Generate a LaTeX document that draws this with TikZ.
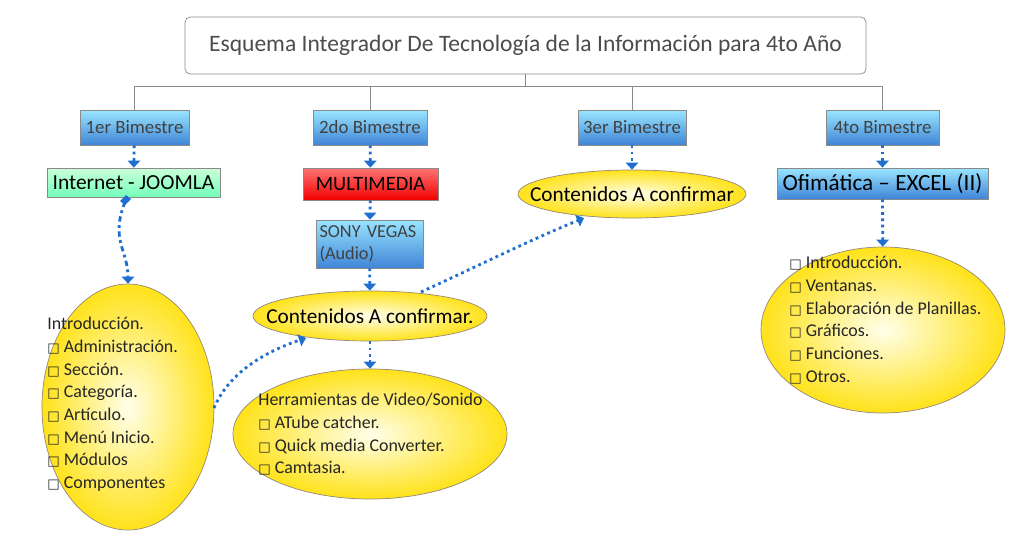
\documentclass[tikz,border=0pt]{standalone}
\usepackage{fontspec}
\setmainfont{Carlito}
\newfontfamily\symf{DejaVu Sans}
\usetikzlibrary{arrows.meta,shapes.geometric}
\definecolor{lnk}{HTML}{1E6FD0}
\definecolor{bord}{HTML}{8A8A8A}
\newlength{\ux}\setlength{\ux}{0.02cm}
\tikzset{
 blue box/.style={draw=bord,top color=blue!25!cyan!40,bottom color=lnk!85,minimum height=35\ux,inner sep=1pt,font=\fontsize{10.7}{12}\selectfont,text=black!75},
 yel/.style={draw=bord!80!brown,ellipse,inner color=yellow!8,outer color=yellow!75!orange!90,inner sep=0pt},
 dotarrow/.style={lnk,line width=1.6pt,dotted,-{Triangle[length=4pt,width=7pt,fill=lnk]}},
 tree/.style={draw=bord,line width=0.5pt},
 body/.style={align=left,font=\fontsize{10.2}{12.9}\selectfont,inner sep=0pt,text=black!85},
 lbl/.style={inner sep=0pt,font=\fontsize{12.1}{14}\selectfont},
}
\newcommand{\bx}{{\symf\fontsize{7.5}{7.5}\selectfont □}\ }
\begin{document}
\begin{tikzpicture}[x=0.02cm,y=-0.02cm]
\useasboundingbox[fill=white] (0,0) rectangle (1022,548);
\node[draw=bord,rounded corners=3pt,fill=white,minimum width=681\ux,minimum height=57\ux,font=\fontsize{13.4}{15}\selectfont,text=black!70] (title) at (525.5,45.5) {Esquema Integrador De Tecnología de la Información para 4to Año};
\node[blue box,minimum width=109\ux] (b1) at (134.5,127.5) {1er Bimestre};
\node[blue box,minimum width=114\ux] (b2) at (370,127.5) {2do Bimestre};
\node[blue box,minimum width=108\ux] (b3) at (632,127.5) {3er Bimestre};
\node[blue box,minimum width=113\ux] (b4) at (882.5,127.5) {4to Bimestre};
\coordinate (hy) at (0,86);
\draw[tree] (title.south) -- (title.south|-hy);
\draw[tree] (b1.north) -- (b1.north|-hy) -- (b4.north|-hy) -- (b4.north);
\draw[tree] (b2.north) -- (b2.north|-hy);
\draw[tree] (b3.north) -- (b3.north|-hy);
\node[draw=bord,top color=cyan!25!green!20,bottom color=cyan!50!green!55,minimum width=173\ux,minimum height=29\ux,inner sep=1pt,font=\fontsize{12.2}{14}\selectfont] (joomla) at (133.5,182.5) {Internet - JOOMLA};
\node[draw=bord,top color=red!55,bottom color=red!95!black,minimum width=135\ux,minimum height=32\ux,inner sep=1pt,font=\fontsize{11.6}{13}\selectfont] (multi) at (370.5,184) {MULTIMEDIA};
\node[yel,minimum width=228\ux,minimum height=48\ux] (c3) at (632,194) {};
\node[lbl] (c3t) at (c3) {Contenidos A confirmar};
\node[blue box,minimum width=211\ux,minimum height=31\ux,font=\fontsize{13.2}{15}\selectfont,text=black] (excel) at (882.5,183.5) {Ofimática – EXCEL (II)};
\node[blue box,minimum width=107\ux,minimum height=48\ux,text width=100\ux,align=left,font=\fontsize{10.4}{12.5}\selectfont] (sony) at (369.5,244) {SONY VEGAS\\(Audio)};
\node[yel,minimum width=234\ux,minimum height=50\ux] (c2) at (370,316) {};
\node[lbl] (c2t) at (c2) {Contenidos A confirmar.};
\node[yel,minimum width=244\ux,minimum height=166\ux] (eR) at (883,330) {};
\node[body,anchor=north west] (tR) at (789,256) {\bx Introducción.\\\bx Ventanas.\\\bx Elaboración de Planillas.\\\bx Gráficos.\\\bx Funciones.\\\bx Otros.};
\node[yel,minimum width=172\ux,minimum height=246\ux] (eL) at (128,407) {};
\node[body,anchor=north west] (tL) at (47,317) {Introducción.\\\bx Administración.\\\bx Sección.\\\bx Categoría.\\\bx Artículo.\\\bx Menú Inicio.\\\bx Módulos\\\bx Componentes};
\node[yel,minimum width=274\ux,minimum height=130\ux] (eH) at (370,434) {};
\node[body,anchor=north west] (tH) at (258,393) {Herramientas de Video/Sonido\\\bx ATube catcher.\\\bx Quick media Converter.\\\bx Camtasia.};
\draw[dotarrow] (b1) -- (joomla);
\draw[dotarrow] (b2) -- (multi);
\draw[dotarrow] (b3) -- (c3);
\draw[dotarrow] (b4) -- (excel);
\draw[dotarrow] (multi) -- (sony);
\draw[dotarrow] (sony) -- (c2);
\draw[dotarrow] (c2) -- (eH);
\draw[dotarrow] (excel) -- (eR);
\coordinate (js) at (125,202);
\draw[lnk,line width=1.6pt,dash dot,-{Triangle[length=4pt,width=7pt,fill=lnk]}] (js) .. controls (110,240) and (128,250) .. (eL.north);
\fill[lnk] (120,201) -- (126,195) -- (131,199) -- (125,205) -- cycle;
\coordinate (lo) at (214,408);
\coordinate (li) at (306,338);
\coordinate (co) at (421,292);
\coordinate (ci) at (584,218);
\draw[dotarrow] (lo) .. controls (230,370) and (270,350) .. (li);
\draw[dotarrow] (co) .. controls (480,265) and (530,240) .. (ci);
\end{tikzpicture}
\end{document}
